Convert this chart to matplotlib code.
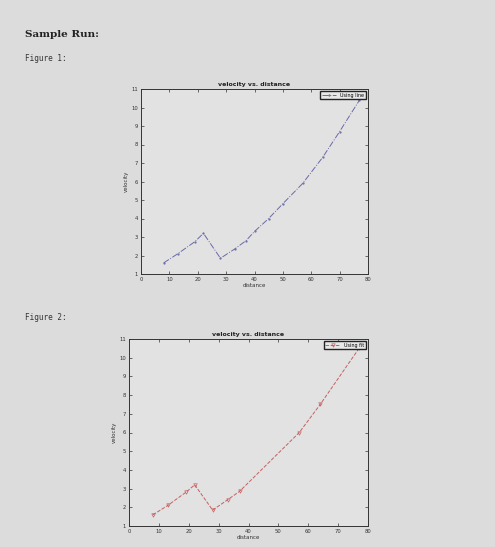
import matplotlib.pyplot as plt

# data
dist1 = [8, 13, 19, 22, 28, 33, 37, 40, 45, 50, 57, 64, 70, 77]
vel1 = [1.6, 2.1, 2.75, 3.2, 1.85, 2.35, 2.8, 3.3, 4.0, 4.8, 5.9, 7.3, 8.7, 10.4]

dist2 = [8, 13, 19, 22, 28, 33, 37, 57, 64, 77]
vel2 = [1.6, 2.1, 2.8, 3.2, 1.85, 2.4, 2.85, 6.0, 7.5, 10.5]

xticks = [0, 10, 20, 30, 40, 50, 60, 70, 80]
yticks = [1, 2, 3, 4, 5, 6, 7, 8, 9, 10, 11]

W, H = 495, 547
fig = plt.figure(figsize=(W / 100, H / 100), dpi=100)
fig.patch.set_facecolor('#dcdcdc')

fig.text(25 / W, 1 - 37 / H, 'Sample Run:', family='DejaVu Serif', weight='bold', fontsize=7.5, color='#222222')
fig.text(25 / W, 1 - 61 / H, 'Figure 1:', family='DejaVu Sans Mono', fontsize=5.5, color='#333333')
fig.text(25 / W, 1 - 320 / H, 'Figure 2:', family='DejaVu Sans Mono', fontsize=5.5, color='#333333')


def setup(ax):
    ax.set_facecolor('#e2e2e2')
    ax.set_xlim(0, 80)
    ax.set_ylim(1, 11)
    ax.set_xticks(xticks)
    ax.set_yticks(yticks)
    ax.tick_params(labelsize=3.8, length=2, width=0.5, direction='in', top=True, right=True, pad=2, colors='#333333')
    for s in ax.spines.values():
        s.set_linewidth(0.7)
        s.set_color('#333333')
    ax.set_title('velocity vs. distance', fontsize=4.5, weight='bold', pad=2, color='#222222')
    ax.set_xlabel('distance', fontsize=4, labelpad=1, color='#333333')
    ax.set_ylabel('velocity', fontsize=4, labelpad=2, color='#333333')


ax1 = fig.add_axes([141 / W, 1 - 274 / H, 227 / W, 185 / H])
setup(ax1)
ax1.plot(dist1, vel1, '-.', color='#6a6aa8', lw=0.7, marker='.', ms=1.2, label='Using line')
ax1.legend(loc='upper right', fontsize=3.5, frameon=True, fancybox=False, edgecolor='#222222',
           handlelength=3, borderpad=0.3, framealpha=1, facecolor='#e8e8e8')

ax2 = fig.add_axes([129 / W, 1 - 526 / H, 239 / W, 187 / H])
setup(ax2)
ax2.plot(dist2, vel2, '--', color='#c46060', lw=0.7, marker='v', ms=2.5, mfc='none', mew=0.5, label='Using fit')
ax2.legend(loc='upper right', fontsize=3.5, frameon=True, fancybox=False, edgecolor='#222222',
           handlelength=3, borderpad=0.3, framealpha=1, facecolor='#e8e8e8')

fig.savefig('out.png', dpi=100, facecolor=fig.get_facecolor())
